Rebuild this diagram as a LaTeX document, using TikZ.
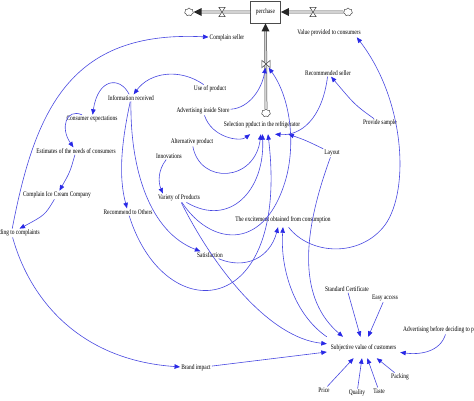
\documentclass[tikz,border=0pt]{standalone}
\usepackage{fontspec}
\setmainfont{Liberation Serif}[FakeStretch=0.78]
\usetikzlibrary{arrows.meta,shapes.symbols}
\definecolor{cblue}{RGB}{72,72,224}
\definecolor{tipblue}{RGB}{40,40,230}
\begin{document}
\begin{tikzpicture}[x=1bp,y=-1bp,font=\fontsize{7}{8}\selectfont,
  lbl/.style={inner sep=1bp,text=black},
  conn/.style={draw=cblue,line width=0.6bp,-{Triangle[length=5.5bp,width=4.5bp,color=tipblue]}},
  pipe/.style={draw=black!70,line width=0.5bp,double=gray!35,double distance=1.6bp},
  cloudnode/.style={cloud,cloud puffs=7,aspect=1.1,draw=black!70,fill=white,minimum width=9bp,minimum height=8bp,inner sep=0pt,line width=0.5bp},
  valvenode/.style={inner sep=0pt,minimum width=6bp,minimum height=9bp},
  valvev/.style={inner sep=0pt,minimum width=8bp,minimum height=7bp},
  valveline/.style={draw=black!75,fill=white,line width=0.5bp},
  flowtip/.style={fill=black!85}]
\useasboundingbox (0,0) rectangle (474,400);

% stock and flows
\node[draw=black!70,line width=0.6bp,minimum width=30bp,minimum height=22bp,inner sep=0pt] (perchase) at (265.5,12) {perchase};
\node[cloudnode] (cloudL) at (189,12) {};
\node[cloudnode] (cloudR) at (348,12) {};
\node[cloudnode] (cloudV) at (266,113) {};
\node[valvenode] (vL) at (222,12) {};
\node[valvenode] (vR) at (313,12) {};
\node[valvev] (vV) at (266,64) {};

\draw[pipe,shorten >=7bp] (perchase) -- (cloudL);
\draw[pipe,shorten >=7bp] (cloudR) -- (perchase);
\draw[pipe,shorten >=7bp] (cloudV) -- (perchase);
\fill[flowtip] (cloudL.east) -- ++(8,-4) -- ++(0,8) -- cycle;
\fill[flowtip] (perchase.east) -- ++(8,-4) -- ++(0,8) -- cycle;
\fill[flowtip] (perchase.south) -- ++(-4,8) -- ++(8,0) -- cycle;
\draw[valveline] (vL.north west) -- (vL.north east) -- (vL.south west) -- (vL.south east) -- cycle;
\draw[valveline] (vR.north west) -- (vR.north east) -- (vR.south west) -- (vR.south east) -- cycle;
\draw[valveline] (vV.north west) -- (vV.south west) -- (vV.north east) -- (vV.south east) -- cycle;

% labels
\node[lbl] (complainseller) at (227,38) {Complain seller};
\node[lbl] (valueprov) at (329,33) {Value provided to consumers};
\node[lbl] (useprod) at (210,89) {Use of product};
\node[lbl] (info) at (131,98) {Information received};
\node[lbl] (advstore) at (203,111) {Advertising inside Store};
\node[lbl] (recseller) at (328,73) {Recommended seller};
\node[lbl] (consexp) at (92,119) {Consumer expectations};
\node[lbl,minimum width=80bp,minimum height=18bp,inner sep=0pt] (selection) at (262,125) {Selection ppduct in the refrigerator};
\node[lbl] (provsample) at (380,123) {Provide sample};
\node[lbl] (altprod) at (192,142) {Alternative product};
\node[lbl] (estimates) at (76,151) {Estimates of the needs of consumers};
\node[lbl] (innov) at (169,156) {Innovations};
\node[lbl] (layout) at (332,153) {Layout};
\node[lbl] (variety) at (179,198) {Variety of Products};
\node[lbl] (complainIce) at (57,195) {Complain Ice Cream Company};
\node[lbl] (recommend) at (128,212) {Recommend to Others};
\node[lbl,minimum height=14bp] (excitement) at (283,220) {The excitement obtained from consumption};
\node[lbl,anchor=east] (resp) at (41,233) {Responding to complaints};
\node[lbl] (satisfaction) at (210,255) {Satisfaction};
\node[lbl] (stdcert) at (347,289) {Standard Certificate};
\node[lbl] (easy) at (385,298) {Easy access};
\node[lbl,anchor=west] (advbefore) at (402,330) {Advertising before deciding to purchase};
\node[lbl,minimum width=73bp,minimum height=21bp,inner sep=0pt] (subjective) at (363.5,347.5) {Subjective value of customers};
\node[lbl] (brand) at (196,368) {Brand impact};
\node[lbl] (packing) at (400,377) {Packing};
\node[lbl] (price) at (324,390) {Price};
\node[lbl] (quality) at (357,393) {Quality};
\node[lbl] (taste) at (379,391) {Taste};

% connectors
\draw[conn] (resp) .. controls (35,110) and (70,30) .. (complainseller);
\draw[conn] (resp) .. controls (30,300) and (80,360) .. (brand);
\draw[conn] (useprod) .. controls (180,68) and (150,72) .. (info);
\draw[conn] (info) .. controls (120,76) and (98,78) .. (consexp);
\draw[conn] (consexp) .. controls (66,108) and (60,128) .. (estimates);
\draw[conn] (estimates) .. controls (70,172) .. (complainIce);
\draw[conn] (complainIce) .. controls (45,215) .. (resp);
\draw[conn] (info) .. controls (122,140) and (118,175) .. (recommend);
\draw[conn] (info) .. controls (130,170) and (150,232) .. (satisfaction);
\draw[conn] (recommend) .. controls (165,330) and (290,320) .. ([xshift=6bp]selection.south);
\draw[conn] (satisfaction) .. controls (245,270) and (270,258) .. ([xshift=-5bp]excitement.south);
\draw[conn] (advstore) .. controls (250,108) and (262,88) .. (vV);
\draw[conn] (advstore) .. controls (212,138) and (240,142) .. (selection);
\draw[conn] (altprod) .. controls (200,185) and (255,182) .. (selection);
\draw[conn] (variety) .. controls (230,228) and (265,190) .. (selection);
\draw[conn] (variety) .. controls (210,245) and (262,252) .. (284,185) .. controls (296,150) and (292,100) .. (vV);
\draw[conn] (recseller) .. controls (322,120) and (300,136) .. ([xshift=13bp]selection.south);
\draw[conn] (layout) .. controls (305,140) .. (selection);
\draw[conn] (provsample) .. controls (355,105) .. (recseller);
\draw[conn] (excitement) .. controls (310,255) and (360,258) .. (385,225) .. controls (410,190) and (405,100) .. ([xshift=-5bp]valueprov.south east);
\draw[conn] (layout) .. controls (300,240) and (300,300) .. ([xshift=-20.5bp]subjective.north);
\draw[conn] (subjective.north west) .. controls (295,315) and (280,270) .. (excitement.south);
\draw[conn] (variety) .. controls (215,270) and (270,338) .. (subjective);
\draw[conn] (brand) -- (subjective);
\draw[conn] (stdcert) -- (subjective);
\draw[conn] (easy) -- (subjective);
\draw[conn] (advbefore) .. controls (440,352) and (420,355) .. (subjective);
\draw[conn] (packing) -- (subjective);
\draw[conn] (price) -- (subjective);
\draw[conn] (quality) -- (subjective);
\draw[conn] (taste) -- (subjective);
\draw[conn] (innov) .. controls (158,170) and (158,182) .. ([xshift=-16bp]variety.north);
\end{tikzpicture}
\end{document}
